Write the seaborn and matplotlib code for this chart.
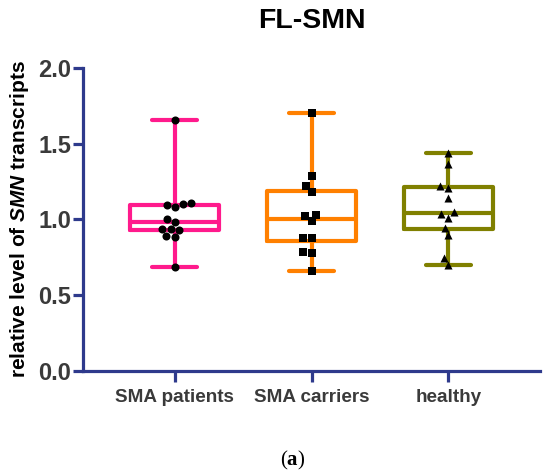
import matplotlib
matplotlib.use("Agg")
import matplotlib.pyplot as plt
import seaborn as sns
import pandas as pd

# ---- data ----
categories = ["SMA patients", "SMA carriers", "healthy"]
sma_patients = [1.657, 1.11, 1.10, 1.097, 1.08, 1.00, 0.982, 0.934, 0.934, 0.929, 0.889, 0.885, 0.687]
sma_carriers = [1.705, 1.285, 1.22, 1.18, 1.033, 1.022, 0.989, 0.879, 0.879, 0.787, 0.776, 0.661]
healthy = [1.44, 1.365, 1.22, 1.21, 1.145, 1.05, 1.035, 1.013, 0.947, 0.897, 0.743, 0.699]
yticks = [0.0, 0.5, 1.0, 1.5, 2.0]

colors = ["#FF1A8C", "#FF8000", "#808000"]
markers = ["o", "s", "^"]
axis_color = "#2E3A8C"
text_gray = "#3A3A3A"

sns.set_theme(style="white")
plt.rcParams["font.family"] = ["Liberation Sans", "DejaVu Sans"]
plt.rcParams["mathtext.fontset"] = "custom"
plt.rcParams["mathtext.it"] = "Liberation Sans:bold:italic"
plt.rcParams["mathtext.rm"] = "Liberation Sans:bold"
plt.rcParams["mathtext.bf"] = "Liberation Serif:bold"

groups = [sma_patients, sma_carriers, healthy]
df = pd.DataFrame({
    "group": sum([[c] * len(v) for c, v in zip(categories, groups)], []),
    "value": sum(groups, []),
})

fig = plt.figure(figsize=(5.5, 4.73), dpi=100)
ax = fig.add_axes([83 / 550, 1 - 371 / 473, (540 - 83) / 550, (371 - 68) / 473])

sns.boxplot(data=df, x="group", y="value", hue="group", order=categories,
            hue_order=categories, palette=colors, fill=False, linewidth=3.0,
            width=0.65, whis=(0, 100), showfliers=False, legend=False, ax=ax)

for cat, mk in zip(categories, markers):
    sub = df[df["group"] == cat]
    sns.swarmplot(data=sub, x="group", y="value", order=categories, color="black",
                  marker=mk, size=5.8, ax=ax, zorder=5)

ax.set_xlim(-0.67, 2.67)
ax.set_ylim(0, 2.0)
ax.set_yticks(yticks)
ax.set_yticklabels([f"{t:.1f}" for t in yticks])

for side in ["top", "right"]:
    ax.spines[side].set_visible(False)
for side in ["left", "bottom"]:
    ax.spines[side].set_color(axis_color)
    ax.spines[side].set_linewidth(2.3)

ax.tick_params(axis="y", which="major", direction="out", length=7, width=2.3,
               color=axis_color, labelsize=17, labelcolor=text_gray, pad=1.5, left=True)
ax.tick_params(axis="x", which="major", direction="out", length=8, width=2.3,
               color=axis_color, labelsize=13.6, labelcolor=text_gray, pad=5, bottom=True)
for lab in ax.get_xticklabels() + ax.get_yticklabels():
    lab.set_fontweight("bold")

ax.set_xlabel("")
ax.set_ylabel(r"relative level of $\mathit{SMN}$ transcripts", fontsize=15,
              fontweight="bold", color="black", labelpad=5)

fig.text(311.5 / 550, 1 - 28 / 473, "FL-SMN", ha="center", va="baseline",
         fontsize=20.5, fontweight="bold", color="black")
fig.text(293 / 550, 1 - 465 / 473, r"($\mathbf{a}$)", ha="center", va="baseline",
         fontsize=15, family="Liberation Serif", color="black")

fig.savefig("out.png", dpi=100)
